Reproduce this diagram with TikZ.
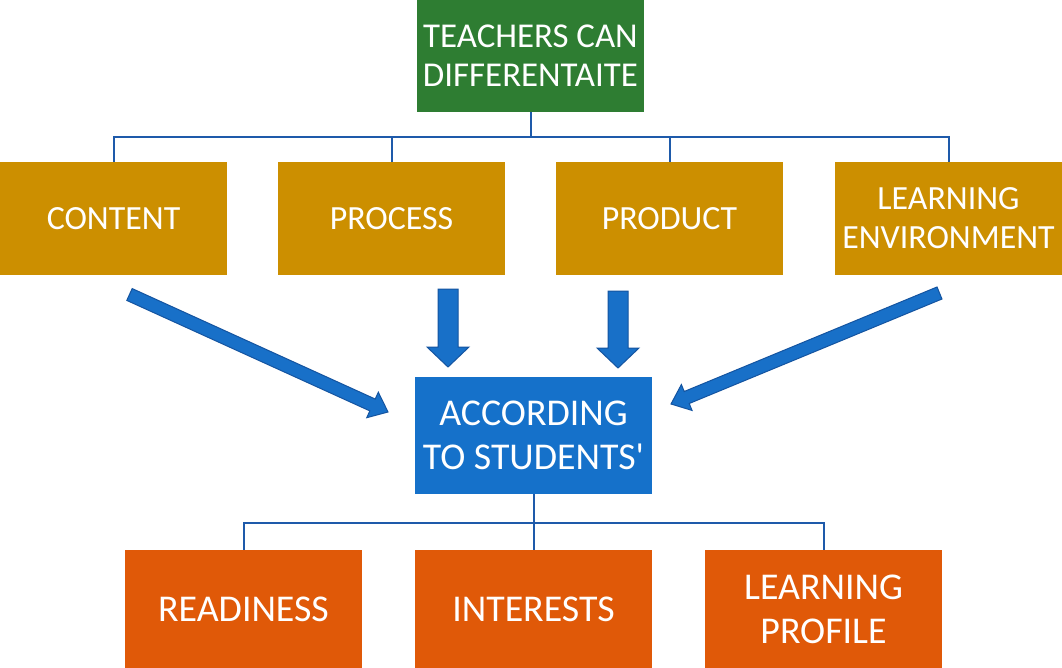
\documentclass[tikz,border=0pt]{standalone}
\usepackage{fontspec}
\setmainfont{Carlito}
\usetikzlibrary{calc}
\definecolor{topgreen}{RGB}{46,125,50}
\definecolor{gold}{RGB}{204,143,0}
\definecolor{midblue}{RGB}{21,113,202}
\definecolor{botorange}{RGB}{224,89,8}
\definecolor{linkblue}{RGB}{30,90,170}
\definecolor{arrowfill}{RGB}{24,112,200}
\definecolor{arrowedge}{RGB}{20,84,160}
\newcommand\straightquote{\XeTeXglyph\numexpr\XeTeXcharglyph"0027\relax}
\tikzset{
  box/.style={inner sep=0pt, text=white, align=center},
  topbox/.style={box, fill=topgreen, minimum width=227bp, minimum height=112bp, font=\fontsize{35}{39}\selectfont},
  midbox/.style={box, fill=gold, minimum width=227bp, minimum height=113bp, font=\fontsize{34}{39}\selectfont},
  centerbox/.style={box, fill=midblue, minimum width=237bp, minimum height=117bp, font=\fontsize{38}{44}\selectfont},
  lowbox/.style={box, fill=botorange, minimum width=237bp, minimum height=118bp, font=\fontsize{38}{44}\selectfont},
  link/.style={draw=linkblue, line width=2bp},
  blockarrow/.style={fill=arrowfill, draw=arrowedge, line width=1bp, line join=miter}
}
\newcommand\myblockarrow[5]{%
  \path ($(#2)!#5!(#1)$) coordinate (hb);
  \filldraw[blockarrow] ($(#1)!#3!90:(#2)$) -- ($(hb)!#3!-90:(#1)$) -- ($(hb)!#4!-90:(#1)$) -- (#2) -- ($(hb)!#4!90:(#1)$) -- ($(hb)!#3!90:(#1)$) -- ($(#1)!#3!-90:(#2)$) -- cycle;}
\begin{document}
\begin{tikzpicture}[x=1bp,y=-1bp]
\useasboundingbox[fill=white] (0,0) rectangle (1062,668);
% boxes
\node[topbox] (teach) at (530.5,56) {TEACHERS CAN\\DIFFERENTAITE};
\node[midbox] (content) at (113.5,218.5) {CONTENT};
\node[midbox] (process) at (391.5,218.5) {PROCESS};
\node[midbox] (product) at (669.5,218.5) {PRODUCT};
\node[midbox] (env) at (948.5,218.5) {LEARNING\\ENVIRONMENT};
\node[centerbox] (acc) at (533.5,435.5) {ACCORDING\\TO STUDENTS\straightquote};
\node[lowbox] (ready) at (243.5,609) {READINESS};
\node[lowbox] (inter) at (533.5,609) {INTERESTS};
\node[lowbox] (profile) at (823.5,609) {LEARNING\\PROFILE};
% tree connectors
\draw[link] (teach.south) -- ++(0,25) coordinate (bar1);
\draw[link] (content.north) |- (bar1) -| (env.north);
\draw[link] (process.north) -- (process.north |- bar1);
\draw[link] (product.north) -- (product.north |- bar1);
\draw[link] (acc.south) -- ++(0,29) coordinate (bar2);
\draw[link] (ready.north) |- (bar2) -| (profile.north);
\draw[link] (inter.north) -- (bar2);
% block arrows
\coordinate (t1) at (129.5,294.5);
\coordinate (h1) at (388,412);
\coordinate (t2) at (448,289);
\coordinate (h2) at (448,367);
\coordinate (t3) at (618,291);
\coordinate (h3) at (618,368);
\coordinate (t4) at (939.5,293);
\coordinate (h4) at (671,404);
\myblockarrow{t1}{h1}{6.5bp}{14bp}{17bp}
\myblockarrow{t2}{h2}{10bp}{21bp}{20bp}
\myblockarrow{t3}{h3}{10bp}{21bp}{20bp}
\myblockarrow{t4}{h4}{6.5bp}{14bp}{17bp}
\end{tikzpicture}
\end{document}
